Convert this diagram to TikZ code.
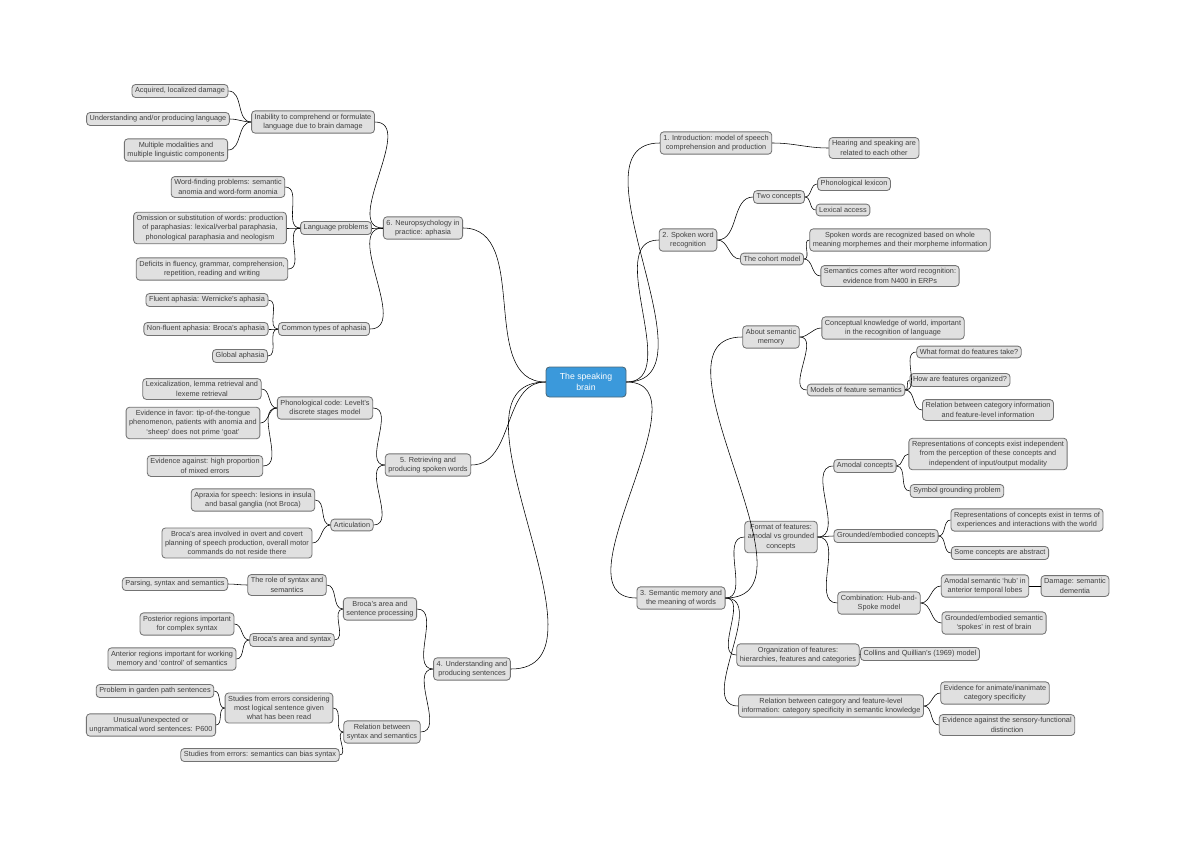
\documentclass[tikz,border=0pt]{standalone}
\usepackage{fontspec}
\setmainfont{Liberation Sans}
\begin{document}
\begin{tikzpicture}[x=0.025cm,y=-0.025cm,
  box/.style={draw=black!55,fill=black!12,rounded corners=2.5pt,line width=0.6pt,inner sep=2.2pt,align=center,font=\fontsize{5.2}{6.6}\selectfont,text=black!75,minimum height=14\pgflinewidth},
  root/.style={box,fill=cyan!70!blue!80,draw=cyan!40!black,text=white,font=\fontsize{6.2}{7.4}\selectfont,minimum width=80*0.025cm,minimum height=30*0.025cm},
  edge/.style={draw=black!55,line width=0.5pt},
  L/.style={edge,out=180,in=0},
  R/.style={edge,out=0,in=180}]
\useasboundingbox (0,0) rectangle (1200,848);
\node[root] (c) at (586,382) {The speaking\\brain};
% ---- Branch 6
\node[box] (b6) at (423,228) {6. Neuropsychology in\\practice: aphasia};
\node[box] (b6a) at (313,122) {Inability to comprehend or formulate\\language due to brain damage};
\node[box] (b6a1) at (180,91) {Acquired, localized damage};
\node[box] (b6a2) at (158,119) {Understanding and/or producing language};
\node[box] (b6a3) at (176,150) {Multiple modalities and\\multiple linguistic components};
\node[box] (b6b) at (336,228) {Language problems};
\node[box] (b6b1) at (228,187) {Word-finding problems: semantic\\anomia and word-form anomia};
\node[box] (b6b2) at (210,228) {Omission or substitution of words: production\\of paraphasias: lexical/verbal paraphasia,\\phonological paraphasia and neologism};
\node[box] (b6b3) at (212,269) {Deficits in fluency, grammar, comprehension,\\repetition, reading and writing};
\node[box] (b6c) at (324,329) {Common types of aphasia};
\node[box] (b6c1) at (207,300) {Fluent aphasia: Wernicke's aphasia};
\node[box] (b6c2) at (206,329) {Non-fluent aphasia: Broca's aphasia};
\node[box] (b6c3) at (240,356) {Global aphasia};
% ---- Branch 5
\node[box] (b5) at (428,465) {5. Retrieving and\\producing spoken words};
\node[box] (b5a) at (325,408) {Phonological code: Levelt's\\discrete stages model};
\node[box] (b5a1) at (202,389) {Lexicalization, lemma retrieval and\\lexeme retrieval};
\node[box] (b5a2) at (193,423) {Evidence in favor: tip-of-the-tongue\\phenomenon, patients with anomia and\\`sheep' does not prime `goat'};
\node[box] (b5a3) at (205,466) {Evidence against: high proportion\\of mixed errors};
\node[box] (b5b) at (352,525) {Articulation};
\node[box] (b5b1) at (253,500) {Apraxia for speech: lesions in insula\\and basal ganglia (not Broca)};
\node[box] (b5b2) at (237,543) {Broca's area involved in overt and covert\\planning of speech production, overall motor\\commands do not reside there};
% ---- Branch 4
\node[box] (b4) at (472,669) {4. Understanding and\\producing sentences};
\node[box] (b4a) at (380,609) {Broca's area and\\sentence processing};
\node[box] (b4a1) at (287,585) {The role of syntax and\\semantics};
\node[box] (b4a11) at (175,584) {Parsing, syntax and semantics};
\node[box] (b4a2) at (292,640) {Broca's area and syntax};
\node[box] (b4a21) at (187,624) {Posterior regions important\\for complex syntax};
\node[box] (b4a22) at (172,659) {Anterior regions important for working\\memory and `control' of semantics};
\node[box] (b4b) at (382,732) {Relation between\\syntax and semantics};
\node[box] (b4b1) at (279,708) {Studies from errors considering\\most logical sentence given\\what has been read};
\node[box] (b4b11) at (155,691) {Problem in garden path sentences};
\node[box] (b4b12) at (151,725) {Unusual/unexpected or\\ungrammatical word sentences: P600};
\node[box] (b4b2) at (260,755) {Studies from errors: semantics can bias syntax};
% ---- Branch 1
\node[box] (b1) at (716,143) {1. Introduction: model of speech\\comprehension and production};
\node[box] (b11) at (874,148) {Hearing and speaking are\\related to each other};
% ---- Branch 2
\node[box] (b2) at (688,240) {2. Spoken word\\recognition};
\node[box] (b2a) at (779,197) {Two concepts};
\node[box] (b2a1) at (854,184) {Phonological lexicon};
\node[box] (b2a2) at (843,210) {Lexical access};
\node[box] (b2b) at (772,259) {The cohort model};
\node[box] (b2b1) at (900,240) {Spoken words are recognized based on whole\\meaning morphemes and their morpheme information};
\node[box] (b2b2) at (890,276) {Semantics comes after word recognition:\\evidence from N400 in ERPs};
% ---- Branch 3
\node[box] (b3) at (681,598) {3. Semantic memory and\\the meaning of words};
\node[box] (b3a) at (771,337) {About semantic\\memory};
\node[box] (b3a1) at (893,328) {Conceptual knowledge of world, important\\in the recognition of language};
\node[box] (b3b) at (856,390) {Models of feature semantics};
\node[box] (b3b1) at (969,352) {What format do features take?};
\node[box] (b3b2) at (960,380) {How are features organized?};
\node[box] (b3b3) at (988,410) {Relation between category information\\and feature-level information};
\node[box] (b3c) at (781,537) {Format of features:\\amodal vs grounded\\concepts};
\node[box] (b3c1) at (865,466) {Amodal concepts};
\node[box] (b3c11) at (988,454) {Representations of concepts exist independent\\from the perception of these concepts and\\independent of input/output modality};
\node[box] (b3c12) at (957,491) {Symbol grounding problem};
\node[box] (b3c2) at (886,536) {Grounded/embodied concepts};
\node[box] (b3c21) at (1027,520) {Representations of concepts exist in terms of\\experiences and interactions with the world};
\node[box] (b3c22) at (1000,553) {Some concepts are abstract};
\node[box] (b3c3) at (879,603) {Combination: Hub-and-\\Spoke model};
\node[box] (b3c31) at (985,586) {Amodal semantic `hub' in\\anterior temporal lobes};
\node[box] (b3c311) at (1075,586) {Damage: semantic\\dementia};
\node[box] (b3c32) at (994,623) {Grounded/embodied semantic\\`spokes' in rest of brain};
\node[box] (b3d) at (798,655) {Organization of features:\\hierarchies, features and categories};
\node[box] (b3d1) at (920,654) {Collins and Quillian's (1969) model};
\node[box] (b3e) at (831,706) {Relation between category and feature-level\\information: category specificity in semantic knowledge};
\node[box] (b3e1) at (995,693) {Evidence for animate/inanimate\\category specificity};
\node[box] (b3e2) at (1007,725) {Evidence against the sensory-functional\\distinction};
% ---- edges left
\foreach \p/\k in {c/b6,c/b5,c/b4,b6/b6a,b6/b6b,b6/b6c,b6a/b6a1,b6a/b6a2,b6a/b6a3,b6b/b6b1,b6b/b6b2,b6b/b6b3,b6c/b6c1,b6c/b6c2,b6c/b6c3,b5/b5a,b5/b5b,b5a/b5a1,b5a/b5a2,b5a/b5a3,b5b/b5b1,b5b/b5b2,b4/b4a,b4/b4b,b4a/b4a1,b4a/b4a2,b4a1/b4a11,b4a2/b4a21,b4a2/b4a22,b4b/b4b1,b4b/b4b2,b4b1/b4b11,b4b1/b4b12}
  \draw (\p.west) to[L] (\k.east);
% ---- edges right
\foreach \p/\k in {c/b1,c/b2,c/b3,b1/b11,b2/b2a,b2/b2b,b2a/b2a1,b2a/b2a2,b2b/b2b1,b2b/b2b2,b3/b3a,b3/b3c,b3/b3d,b3/b3e,b3a/b3a1,b3a/b3b,b3b/b3b1,b3b/b3b2,b3b/b3b3,b3c/b3c1,b3c/b3c2,b3c/b3c3,b3c1/b3c11,b3c1/b3c12,b3c2/b3c21,b3c2/b3c22,b3c3/b3c31,b3c3/b3c32,b3c31/b3c311,b3d/b3d1,b3e/b3e1,b3e/b3e2}
  \draw (\p.east) to[R] (\k.west);
\end{tikzpicture}
\end{document}
